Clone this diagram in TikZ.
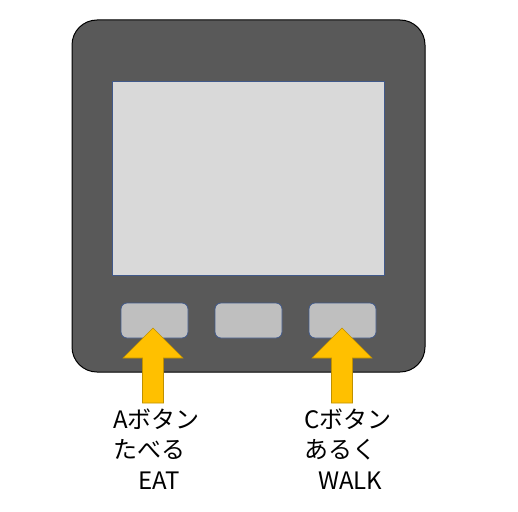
\documentclass[tikz,border=0pt]{standalone}
\usepackage{fontspec}
\setmainfont{Noto Sans CJK JP}
\usetikzlibrary{positioning}

\definecolor{bodygray}{HTML}{595959}
\definecolor{screengray}{HTML}{D9D9D9}
\definecolor{btngray}{HTML}{BFBFBF}
\definecolor{edgeblue}{HTML}{41598A}
\definecolor{arrowyellow}{HTML}{FFC000}
\definecolor{arrowedge}{HTML}{BF9000}

\tikzset{
    body/.style={draw=black, line width=1pt, fill=bodygray, rounded corners=25},
    screen/.style={draw=edgeblue, line width=0.8pt, fill=screengray},
    btn/.style={draw=edgeblue, line width=0.8pt, fill=btngray, rounded corners=6,
        minimum width=67, minimum height=35, inner sep=0pt},
    fatarrow/.style={draw=arrowedge, line width=0.6pt, fill=arrowyellow},
    labtext/.style={font=\fontsize{24}{30}\selectfont, inner sep=0pt, anchor=base west}
}

% block arrow pointing up, tip at (#1,#2)
\newcommand{\blockarrow}[2]{%
    \filldraw[fatarrow] (#1,#2) -- ++(30,30) -- ++(-19.5,0) -- ++(0,45)
        -- ++(-21,0) -- ++(0,-45) -- ++(-19.5,0) -- cycle;}

\begin{document}
\begin{tikzpicture}[x=1pt, y=-1pt]
    \useasboundingbox (0,0) rectangle (518,511);

    % Case and screen
    \draw[body] (72,20) rectangle (425,372);
    \draw[screen] (112,81) rectangle (384,275);

    % Buttons
    \node[btn] (btnA) at (154.5,320.5) {};
    \node[btn] (btnB) at (248.5,320.5) {};
    \node[btn] (btnC) at (342.5,320.5) {};

    % Arrows onto A and C
    \blockarrow{153}{328}
    \blockarrow{342}{328}

    % Labels
    \node[labtext] (labA1) at (113,428) {Aボタン};
    \node[labtext] (labA2) at (113,458.5) {たべる};
    \node[labtext] (labA3) at (138,489) {EAT};

    \node[labtext] (labC1) at (304,428) {Cボタン};
    \node[labtext] (labC2) at (304,458.5) {あるく};
    \node[labtext] (labC3) at (318,489) {WALK};
\end{tikzpicture}
\end{document}
